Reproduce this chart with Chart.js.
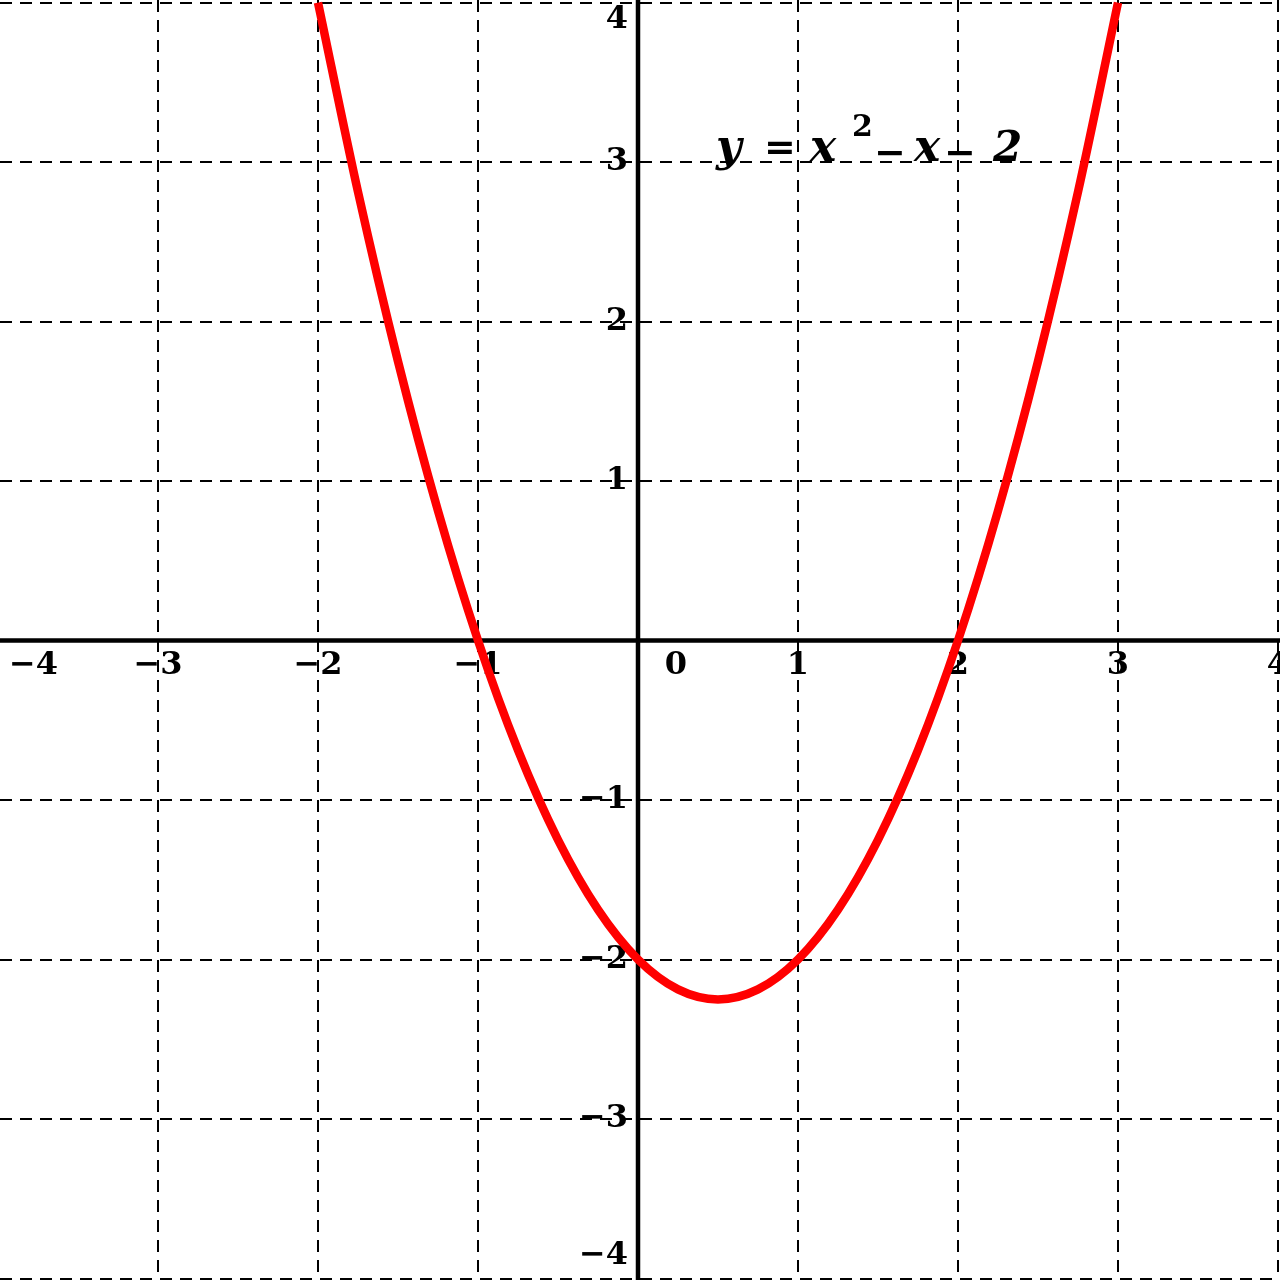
<!DOCTYPE html>
<html>
<head>
<meta charset="utf-8">
<script src="https://cdn.jsdelivr.net/npm/chart.js@4/dist/chart.umd.min.js"></script>
<style>
  html, body { margin: 0; padding: 0; background: #ffffff; }
  #wrap { width: 1280px; height: 1280px; }
</style>
</head>
<body>
<div id="wrap"><canvas id="c" width="1280" height="1280"></canvas></div>
<script>
// ---- data ----
const curveX = [-2, -1.75, -1.5, -1.25, -1, -0.75, -0.5, -0.25, 0, 0.25, 0.5, 0.75, 1, 1.25, 1.5, 1.75, 2, 2.25, 2.5, 2.75, 3];
const curveY = [4, 2.8125, 1.75, 0.8125, 0, -0.6875, -1.25, -1.6875, -2, -2.1875, -2.25, -2.1875, -2, -1.6875, -1.25, -0.6875, 0, 0.8125, 1.75, 2.8125, 4];
const xTicks = [-4, -3, -2, -1, 0, 1, 2, 3, 4];
const yTicks = [-4, -3, -2, -1, 0, 1, 2, 3, 4];
const xTickLabels = ['\u22124', '\u22123', '\u22122', '\u22121', '0', '1', '2', '3', '4'];
const yTickLabels = ['\u22124', '\u22123', '\u22122', '\u22121', '', '1', '2', '3', '4'];
const equationParts = ['y', '=', 'x', '2', '\u2212', 'x', '\u2212', '2'];

const points = curveX.map((x, i) => ({ x: x, y: curveY[i] }));

const LABEL_FONT = 'bold 32px "DejaVu Serif", "Liberation Serif", serif';

const axesPlugin = {
  id: 'axesAndLabels',
  beforeDatasetsDraw(chart) {
    const ctx = chart.ctx;
    const xs = chart.scales.x, ys = chart.scales.y;
    const x0 = xs.getPixelForValue(0), y0 = ys.getPixelForValue(0);
    const W = chart.width, H = chart.height;
    ctx.save();
    // axes
    ctx.strokeStyle = '#000';
    ctx.lineWidth = 4.5;
    ctx.setLineDash([]);
    ctx.beginPath();
    ctx.moveTo(0, y0); ctx.lineTo(W, y0);
    ctx.moveTo(x0, 0); ctx.lineTo(x0, H);
    ctx.stroke();
    // x tick labels
    ctx.fillStyle = '#000';
    ctx.font = LABEL_FONT;
    ctx.textBaseline = 'middle';
    ctx.textAlign = 'center';
    xTicks.forEach((v, i) => {
      const t = xTickLabels[i];
      if (!t) return;
      let px = xs.getPixelForValue(v);
      if (v === 0) px += 38;
      const w = ctx.measureText(t).width;
      px = Math.max(w / 2 + 9, Math.min(W - w / 2 + 12, px));
      ctx.fillText(t, px, y0 + 25);
    });
    // y tick labels
    ctx.textAlign = 'right';
    yTicks.forEach((v, i) => {
      const t = yTickLabels[i];
      if (!t) return;
      let py = ys.getPixelForValue(v);
      py = Math.max(20, Math.min(H - 24, py));
      ctx.fillText(t, x0 - 10, py);
    });
    // equation label
    const big = 'italic bold 44px "DejaVu Serif", "Liberation Serif", serif';
    const up = 'bold 38px "DejaVu Serif", "Liberation Serif", serif';
    const small = 'bold 30px "DejaVu Serif", "Liberation Serif", serif';
    const layout = [
      [equationParts[0], big, 716, 150],
      [equationParts[1], up, 764, 150],
      [equationParts[2], big, 810, 150],
      [equationParts[3], small, 852, 128],
      [equationParts[4], up, 874, 155],
      [equationParts[5], big, 914, 150],
      [equationParts[6], up, 944, 155],
      [equationParts[7], 'italic bold 42px "DejaVu Serif", "Liberation Serif", serif', 993, 150]
    ];
    ctx.textAlign = 'left';
    ctx.textBaseline = 'middle';
    layout.forEach(p => { ctx.font = p[1]; ctx.fillText(p[0], p[2], p[3]); });
    ctx.restore();
  }
};

new Chart(document.getElementById('c'), {
  type: 'scatter',
  data: {
    datasets: [{
      data: points,
      showLine: true,
      borderColor: '#ff0000',
      backgroundColor: '#ff0000',
      borderWidth: 8.5,
      pointRadius: 0,
      cubicInterpolationMode: 'monotone',
      fill: false
    }]
  },
  options: {
    responsive: false,
    animation: false,
    devicePixelRatio: 1,
    layout: { padding: 0 },
    plugins: { legend: { display: false }, tooltip: { enabled: false } },
    scales: {
      x: {
        type: 'linear',
        min: -3.9875,
        max: 4.0125,
        afterBuildTicks: s => { s.ticks = xTicks.map(v => ({ value: v })); },
        ticks: { display: false },
        grid: { color: '#000', lineWidth: 2, drawTicks: false },
        border: { display: false, dash: [12, 8] }
      },
      y: {
        type: 'linear',
        min: -4.0094,
        max: 4.0157,
        afterBuildTicks: s => { s.ticks = yTicks.map(v => ({ value: v })); },
        ticks: { display: false },
        grid: { color: '#000', lineWidth: 2, drawTicks: false },
        border: { display: false, dash: [12, 8] }
      }
    }
  },
  plugins: [axesPlugin]
});
</script>
</body>
</html>
